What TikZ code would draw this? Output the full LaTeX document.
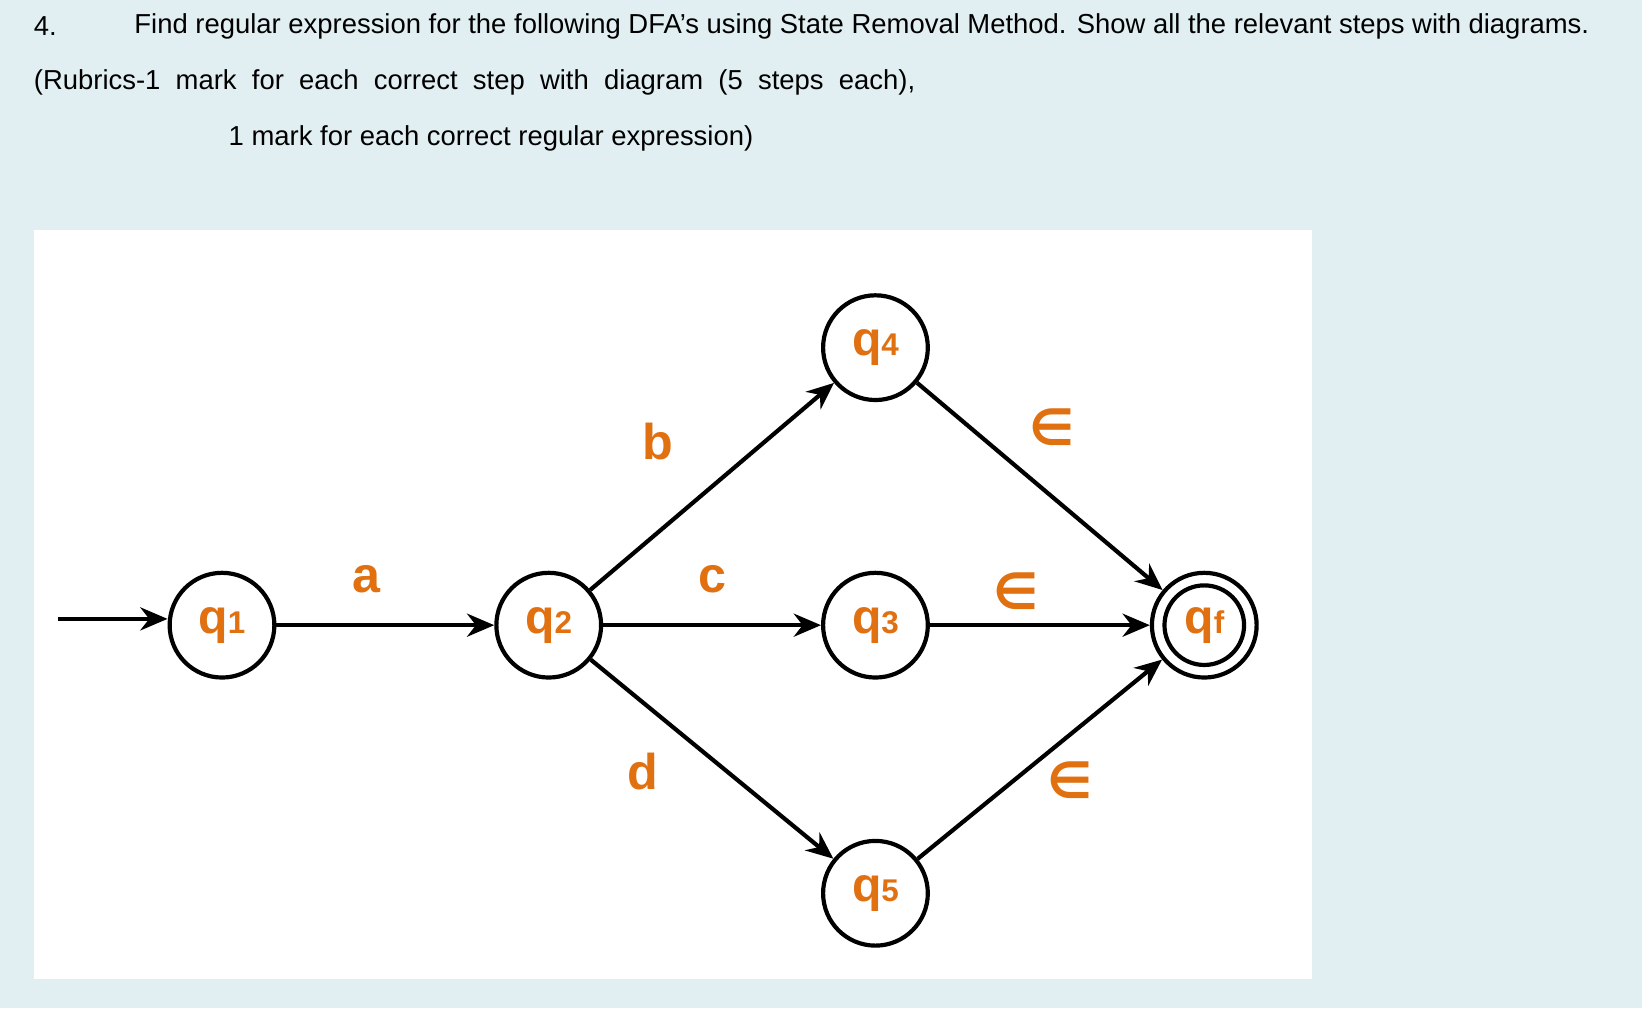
\documentclass[tikz,border=0pt]{standalone}
\usepackage{fontspec}
\setmainfont{Liberation Sans}
\newfontfamily\djv{DejaVu Sans}
\usetikzlibrary{arrows.meta}
\definecolor{bg}{HTML}{E2EFF2}
\definecolor{org}{HTML}{E07010}
\begin{document}
\begin{tikzpicture}[x=0.5pt,y=-0.5pt,
  st/.style={circle,draw,line width=2pt,minimum size=50pt,inner sep=0pt,font=\fontsize{23}{23}\selectfont\bfseries,text=org},
  ed/.style={line width=2pt,-{Stealth[length=13pt,width=11pt]}},
  lb/.style={text=org,font=\fontsize{24}{24}\selectfont\bfseries},
  ep/.style={text=org,font=\djv\fontsize{24}{24}\selectfont\bfseries},
  hd/.style={anchor=west,font=\fontsize{13.1}{13.1}\selectfont,inner sep=0pt}]
\fill[bg] (0,0) rectangle (1568,963);
\useasboundingbox (0,0) rectangle (1568,963);
\fill[white] (32,220) rectangle (1253,935);
\node[hd] (n4) at (32,25) {4.};
\node[hd] (t1) at (128,25) {Find regular expression for the following DFA's using State Removal Method. Show all the relevant steps with diagrams.};
\node[hd] (t2) at (32,79) {(Rubrics-1\ \ mark\ \ for\ \ each\ \ correct\ \ step\ \ with\ \ diagram\ \ (5\ \ steps\ \ each),};
\node[hd] (t3) at (218,132) {1 mark for each correct regular expression)};
\node[st] (q1) at (212,597) {q{\fontsize{15}{15}\selectfont 1}};
\node[st] (q2) at (524,597) {q{\fontsize{15}{15}\selectfont 2}};
\node[st] (q4) at (836,332) {q{\fontsize{15}{15}\selectfont 4}};
\node[st] (q3) at (836,597) {q{\fontsize{15}{15}\selectfont 3}};
\node[st] (q5) at (836,853) {q{\fontsize{15}{15}\selectfont 5}};
\node[st] (qf) at (1150,597) {q{\fontsize{15}{15}\selectfont f}};
\draw[line width=2pt] (qf) circle (19pt);
\coordinate (s) at (55,591);
\draw[ed] (s) -- (q1.west|-s);
\draw[ed] (q1) -- (q2);
\draw[ed] (q2) -- (q4);
\draw[ed] (q2) -- (q3);
\draw[ed] (q2) -- (q5);
\draw[ed] (q4) -- (qf);
\draw[ed] (q3) -- (qf);
\draw[ed] (q5) -- (qf);
\node[lb] (la) at (350,553) {a};
\node[lb] (lb) at (628,422) {b};
\node[lb] (lc) at (680,553) {c};
\node[lb] (ld) at (614,737) {d};
\node[ep] (e1) at (1005,408) {∈};
\node[ep] (e2) at (970,565) {∈};
\node[ep] (e3) at (1022,745) {∈};
\end{tikzpicture}
\end{document}
